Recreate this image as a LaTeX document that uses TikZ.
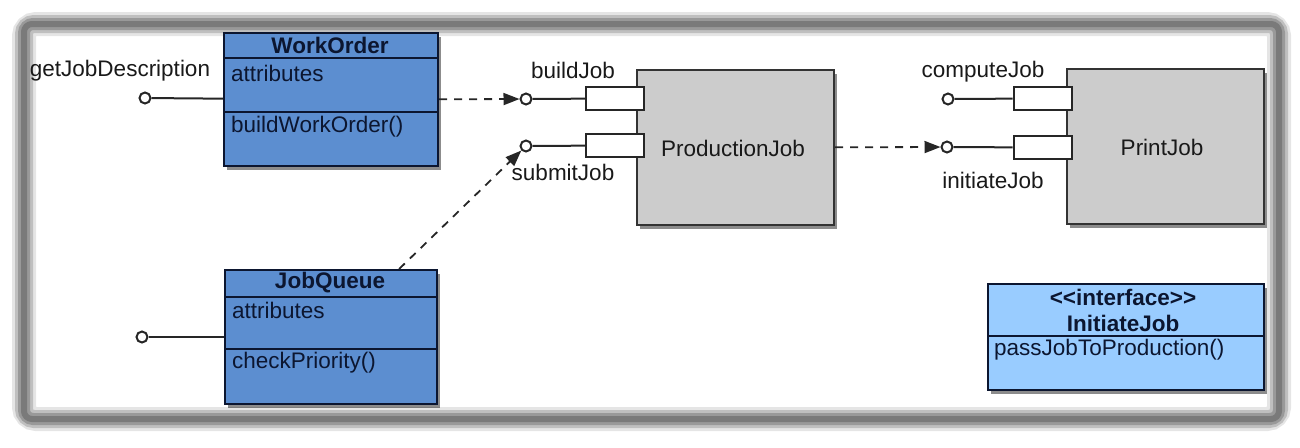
\documentclass[tikz,border=0pt]{standalone}
\usepackage{fontspec}
\setmainfont{Liberation Sans}
\usetikzlibrary{arrows.meta,shadows}
\definecolor{clsblue}{RGB}{92,142,208}
\definecolor{ifblue}{RGB}{153,204,255}
\definecolor{compgray}{RGB}{204,204,204}
\definecolor{navy}{RGB}{12,22,48}
\begin{document}
\begin{tikzpicture}[x=1pt,y=-1pt,
  font=\fontsize{22.5}{26}\selectfont,
  shadowed/.style={drop shadow={shadow xshift=3pt,shadow yshift=-4pt,opacity=0.45,fill=black}},
  cls/.style={draw=navy, line width=2.2pt, fill=clsblue, anchor=north west, inner sep=0pt, shadowed},
  iface/.style={draw=navy, line width=2.2pt, fill=ifblue, anchor=north west, inner sep=0pt, shadowed},
  comp/.style={draw=black!80, line width=2.2pt, fill=compgray, anchor=north west, inner sep=0pt, shadowed},
  sep/.style={draw=navy, line width=2pt},
  port/.style={draw=black!85, line width=2pt, fill=white, minimum width=58pt, minimum height=23pt, inner sep=0pt},
  lolly/.style={circle, draw=black!85, line width=2pt, fill=white, minimum size=11pt, inner sep=0pt},
  conn/.style={line width=2pt, draw=black!85},
  dep/.style={line width=1.8pt, draw=black!85, dash pattern=on 8pt off 7pt, -{Triangle[length=16pt,width=12pt]}},
  lbl/.style={inner sep=0pt, text=black!90},
  ctext/.style={inner sep=0pt, text=navy},
  title/.style={inner sep=0pt, text=navy, font=\fontsize{22.5}{26}\selectfont\bfseries},
]
\useasboundingbox (0,0) rectangle (1300,447);
% outer frame
\draw[line width=24pt, draw=black!10, rounded corners=12pt] (24,24) rectangle (1279,419);
\draw[line width=18pt, draw=black!25, rounded corners=10pt] (24,24) rectangle (1279,419);
\draw[line width=12pt, draw=black!40, rounded corners=9pt] (24,24) rectangle (1279,419);
\draw[line width=6pt, draw=black!52, rounded corners=8pt] (24,24) rectangle (1279,419);

% WorkOrder
\node[cls, minimum width=214pt, minimum height=133pt] (wo) at (223,32) {};
\draw[sep] ([yshift=-26pt]wo.north west) -- ([yshift=-26pt]wo.north east);
\draw[sep] ([yshift=-80pt]wo.north west) -- ([yshift=-80pt]wo.north east);
\node[title] (wot) at (330,45) {WorkOrder};
\node[ctext, anchor=west] (woa) at (231,73) {attributes};
\node[ctext, anchor=west] (wom) at (231,127) {buildWorkOrder()};
\node[lolly] (wol) at (145,98) {};
\draw[conn] (wol) -- (wo);
\node[lbl] (wolt) at (120,71) {getJobDescription};

% JobQueue
\node[cls, minimum width=212pt, minimum height=134pt] (jq) at (224,269) {};
\draw[sep] ([yshift=-28pt]jq.north west) -- ([yshift=-28pt]jq.north east);
\draw[sep] ([yshift=-80pt]jq.north west) -- ([yshift=-80pt]jq.north east);
\node[title] (jqt) at (330,283) {JobQueue};
\node[ctext, anchor=west] (jqa) at (232,310) {attributes};
\node[ctext, anchor=west] (jqm) at (232,363) {checkPriority()};
\node[lolly] (jql) at (142,337) {};
\draw[conn] (jql) -- (jql -| jq.west);

% ProductionJob
\node[comp, minimum width=197pt, minimum height=155pt] (pj) at (636,69) {};
\node[lbl] (pjt) at (733,148) {ProductionJob};
\node[port] (pb) at (615,98.5) {};
\node[port] (ps) at (615,145.5) {};
\node[lolly] (cb) at (526,99) {};
\node[lolly] (cs) at (526,146) {};
\draw[conn] (cb) -- (pb);
\draw[conn] (cs) -- (ps);
\node[lbl] (cbt) at (573,70) {buildJob};
\node[lbl] (cst) at (563,172) {submitJob};

% PrintJob
\node[comp, minimum width=197pt, minimum height=155pt] (prj) at (1066,68) {};
\node[lbl] (prjt) at (1162,147) {PrintJob};
\node[port] (qc) at (1042.5,98.5) {};
\node[port] (qi) at (1042.5,147.5) {};
\node[lolly] (cc) at (948,99) {};
\node[lolly] (ci) at (947,147) {};
\draw[conn] (cc) -- (qc);
\draw[conn] (ci) -- (qi);
\node[lbl] (cct) at (983,72) {computeJob};
\node[lbl] (cit) at (993,180) {initiateJob};

% InitiateJob interface
\node[iface, minimum width=276pt, minimum height=106pt] (ij) at (987,283) {};
\draw[sep] ([yshift=-53pt]ij.north west) -- ([yshift=-53pt]ij.north east);
\node[title] (ijs) at (1123,297) {<{}<interface>{}>};
\node[title] (ijt) at (1123,323) {InitiateJob};
\node[ctext, anchor=west] (ijm) at (994,350) {passJobToProduction()};

% dependencies
\draw[dep] (wo) -- (cb);
\draw[dep] ([xshift=68pt]jq.north) -- (cs);
\draw[dep] (pj) -- (ci);
\end{tikzpicture}
\end{document}
